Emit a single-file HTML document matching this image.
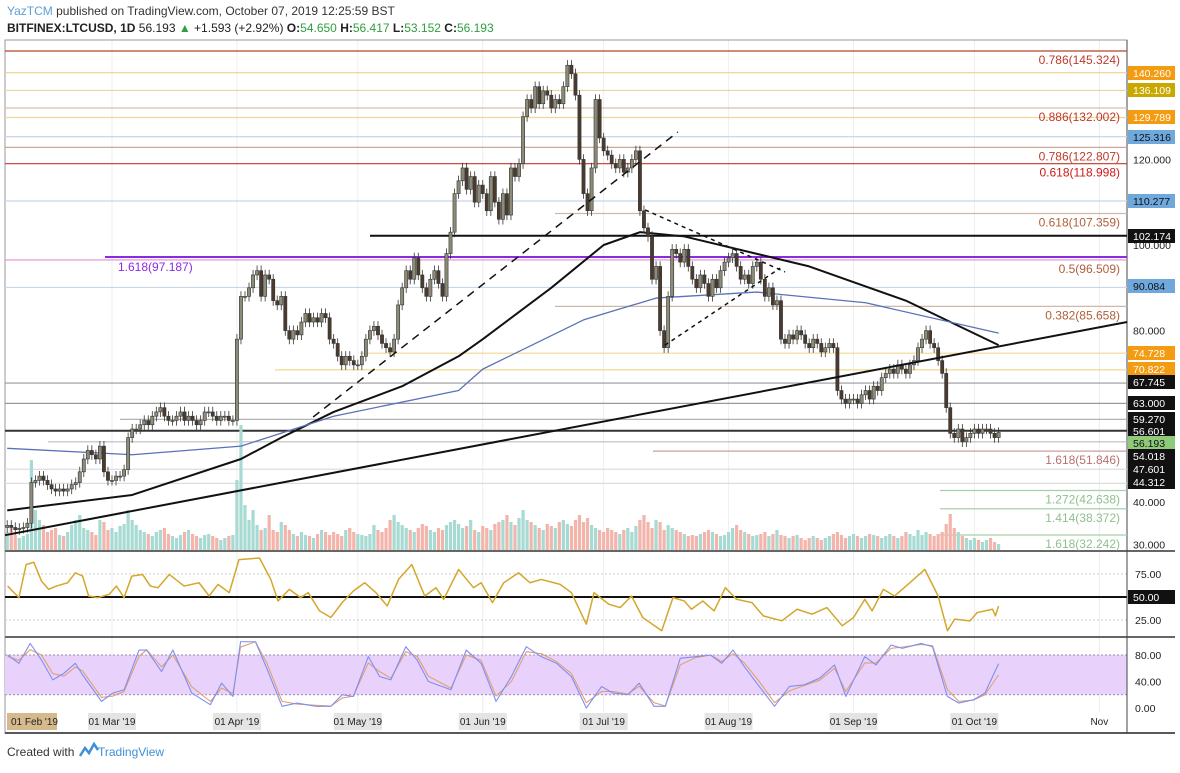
<!DOCTYPE html>
<html><head><meta charset="utf-8"><style>
body{margin:0;background:#fff;width:1180px;height:768px;overflow:hidden;font-family:"Liberation Sans",sans-serif}
svg text{font-family:"Liberation Sans",sans-serif}
</style></head><body>
<svg id="c" width="1180" height="768" xmlns="http://www.w3.org/2000/svg">
<text x="7" y="15" font-size="12" fill="#5aa0d8">YazTCM <tspan fill="#333">published on TradingView.com, October 07, 2019 12:25:59 BST</tspan></text>
<text x="7" y="32" font-size="12" fill="#222"><tspan font-weight="bold">BITFINEX:LTCUSD, 1D</tspan> 56.193 <tspan fill="#2e9e3e">▲</tspan> +1.593 (+2.92%) <tspan font-weight="bold">O:</tspan><tspan fill="#2e9e3e">54.650</tspan> <tspan font-weight="bold">H:</tspan><tspan fill="#2e9e3e">56.417</tspan> <tspan font-weight="bold">L:</tspan><tspan fill="#2e9e3e">53.152</tspan> <tspan font-weight="bold">C:</tspan><tspan fill="#2e9e3e">56.193</tspan></text>
<g id="grid"></g><g id="levels"></g><g id="vol"></g><g id="ma"></g><g id="candles"></g><g id="draw"></g><g id="axis"></g>
<text x="7" y="756" font-size="12" fill="#333">Created with</text>
<path d="M80 756 l5 -8 l4 5 l5 -9 l4 6" stroke="#3d8fd6" stroke-width="2.5" fill="none"/>
<text x="98" y="756" font-size="12" fill="#3d8fd6">TradingView</text>
</svg>
<script>
const closes=[34.5,34,33.5,33.8,34,35,44.5,45,46,45,44,43,42.5,43,42.5,43,44,44.5,47,50,52,51,50,53,47,45,
45,46,46,47.5,55,57,57,58,59,58,60,61,62,60,59,59,60,61,59,60,59,58,59,61,61,60,59,60,60,59,59,
78,88,88,90,93,94,88,93,92,87,86,88,80,78,80,79,82,84,82,83,82,84,83,78,77,74,72,74,73,72,
72,74,78,80,81,79,77,76,75,78,86,90,94,92,97,93,90,88,92,94,91,88,98,103,112,115,118,113,116,110,114,
112,108,116,110,106,112,107,118,116,119,130,134,132,137,133,136,135,132,134,133,137,142,140,135,120,112,108,118,134,125,
122,121,119,118,120,117,118,120,122,108,104,102,92,95,80,76,88,99,98,96,99,95,92,90,93,91,88,92,90,94,96,
97,98,95,92,93,91,95,96,92,88,90,86,87,78,77,79,78,80,79,77,76,78,77,75,76,77,76,66,64,63,64,
64,63,65,66,64,67,66,69,70,71,70,72,71,70,72,73,76,78,80,77,76,73,70,62,56,55,57,54,55,56,
57,56,57,57,56,55,56.193];
const firstDay=2;
const volumes=[18,22,15,12,14,16,90,40,30,25,18,20,22,15,14,18,25,30,35,22,20,18,15,30,28,20,22,18,24,26,
40,30,25,20,18,16,14,18,20,22,16,14,12,15,18,20,16,14,12,15,16,14,12,10,12,14,15,70,125,45,
30,40,25,20,22,35,20,18,28,25,20,16,14,18,15,14,12,16,20,18,15,18,16,14,20,22,18,16,15,14,
16,25,20,18,22,30,35,28,25,22,20,18,22,26,24,20,18,22,20,25,28,30,26,22,24,30,20,18,24,22,
20,26,28,30,35,28,25,32,40,30,28,25,22,20,26,24,22,28,30,26,24,30,35,28,32,25,22,20,18,22,
20,18,16,20,22,18,24,30,35,28,22,30,28,20,25,22,20,18,16,14,15,14,16,18,20,18,16,14,15,18,
22,25,20,18,16,14,15,16,18,14,16,20,15,14,12,14,15,12,10,12,14,12,10,12,14,16,18,15,12,14,
16,14,12,14,16,15,14,12,14,16,14,12,14,18,16,14,20,15,18,16,14,16,18,26,36,22,18,14,12,10,
12,10,8,10,12,8,6];
const maSlowDays=[2,33,60,70,83,100,114,120,137,150,159,170,201,225,248];
const maSlowVals=[38,41.6,50,55,61,67,74,78,90,100,103,102,95,87,76.6];
const maFastDays=[2,33,60,83,114,120,145,163,188,215,248];
const maFastVals=[52.5,51,53,60,66,71,82.5,87.6,89,86.5,79.4];
const rsiDays=[2.1,4.9,6.7,8.6,10.5,12.3,14.2,17,18.9,20.7,22.2,24.5,27.3,29.1,31,32.9,35.6,37.5,39.4,42.2,45.9,49.6,52.1,54.3,57.1,59.5,64.6,67.4,69.2,72,74.8,76.7,79.5,82.3,85.1,87.9,90.7,93.5,96.3,99.1,102.4,105.6,108.4,110.3,114,117.7,119.6,122.4,125.2,128.9,131.7,134.5,139.2,142,145.7,147.6,151.3,154.1,156.9,159.7,164.4,167.2,170,171.8,174.6,177.4,180.2,183,186.8,189.6,194.2,198,201.7,205.4,209.2,212,214.8,216.6,219.4,222.2,226,229.7,233,235.3,237.1,240.9,242.7,246.5,247.2,248];
const rsiVals=[61.9,49.3,85.3,87.8,67.3,58.3,61.9,65.5,76.3,72.7,51.1,49.3,52.9,61.9,49.3,72.7,74.5,61.9,60.1,74.5,61.9,65.5,51.1,63.7,54.7,90.6,92.4,69.1,45.7,58.3,49.3,54.7,34.9,27.7,43.9,56.5,65.5,54.7,40.3,69.1,85.3,51.1,60.1,47.5,79.9,60.1,65.5,43.9,65.5,76.3,65.5,69.1,63.7,54.7,20.5,54.7,42.1,38.5,51.1,27.7,13.3,49.3,45.7,36.7,45.7,34.9,60.1,47.5,43.9,29.5,24.1,36.7,31.3,38.5,18.7,27.7,47.5,34.9,58.3,51.1,65.5,79.9,51.1,13.3,25.9,24.1,33.1,36.7,29.5,40.3];
const stochDays=[2.1,4.9,7.7,10.5,13.3,16.1,18.9,20.7,25.4,28.2,31,34.7,36.6,40.3,43.1,47.8,52.4,55.2,58,59.9,63.6,66.4,70.2,73.9,78.6,82.3,85.1,87.9,91.6,94.4,97.2,100.9,103.7,106.5,112.1,115.9,119.6,123.3,127.1,130.8,134.5,138.3,142,145.7,149.5,152.3,156,158.8,162.5,165.3,169,172.8,176.5,179.3,182.1,184.9,188.6,192.4,196.1,199.8,203.6,207.3,210.1,214.8,217.6,221.3,224.1,228.8,231.6,235.3,238.1,241.8,244.6,248];
const stochK=[80,67.5,97.5,72.5,42.5,52.5,67.5,50,10,22.5,27.5,87.5,87.5,55,87.5,22.5,5,37.5,17.5,100,100,60,2.5,7.5,2.5,2.5,20,17.5,77.5,47.5,42.5,92.5,72.5,40,27.5,87.5,67.5,10,47.5,92.5,77.5,67.5,47.5,0,32.5,22.5,20,37.5,2.5,2.5,75,77.5,80,67.5,87.5,62.5,32.5,2.5,32.5,35,45,65,17.5,77.5,65,95,90,97.5,92.5,17.5,7.5,12.5,22.5,67];
const stochD=[78,72,88,80,52,48,62,56,16,18,25,78,88,62,80,32,10,30,22,92,100,68,10,6,4,3,15,18,68,55,45,85,78,48,30,80,72,18,40,85,82,70,52,8,25,25,21,33,8,3,65,76,80,70,82,68,40,8,26,34,42,60,25,68,68,90,92,96,94,28,10,12,20,50];
const fibLevels=[145.324,140.260,136.109,132.002,129.789,125.316,122.807,118.998,110.277,107.359,102.174,97.187,96.509,90.084,85.658,74.728,70.822,67.745,63.000,59.270,56.601,54.018,51.846,47.601,44.312,42.638,38.372,32.242];
const priceTicks=[120,100,80,40,30];
const rsiTicks=[75,50,25];
const stochTicks=[80,40,0];
const monthDays=[28,59,89,120,150,181,212,242,273];
const monthLabels=["01 Mar '19","01 Apr '19","01 May '19","01 Jun '19","01 Jul '19","01 Aug '19","01 Sep '19","01 Oct '19","Nov"];

const NS="http://www.w3.org/2000/svg";
function X(d){return 112+(d-28)*4.03;}
function Y(p){return 245-(p-100)*4.28;}
function RY(v){return 597-(v-50)*0.92;}
function SY(v){return 708-v*0.6625;}
function mk(parent,tag,attrs){const e=document.createElementNS(NS,tag);for(const k in attrs)e.setAttribute(k,attrs[k]);document.getElementById(parent).appendChild(e);return e;}
monthDays.forEach((d,i)=>{const l=mk('grid','line',{x1:X(d),x2:X(d),y1:40,y2:712,stroke:'#eeeeee'});

});
let f=mk('grid','rect',{x:5,y:40,width:1122,height:693,fill:'none',stroke:'#999','stroke-width':1});


let band=mk('grid','rect',{x:5,y:SY(80),width:1122,height:SY(20)-SY(80),fill:'#e8d2fb'});


[80,20].forEach(v=>{const l=mk('grid','line',{x1:5,x2:1127,y1:SY(v),y2:SY(v),stroke:'#9b8fb0','stroke-dasharray':'2,2'});

});
[75,25].forEach(v=>{const l=mk('grid','line',{x1:5,x2:1127,y1:RY(v),y2:RY(v),stroke:'#ccc','stroke-dasharray':'2,2'});

});
let r50=mk('grid','line',{x1:5,x2:1127,y1:RY(50),y2:RY(50),stroke:'#111','stroke-width':2});


[551,637].forEach(y=>{const l=mk('grid','line',{x1:5,x2:1175,y1:y,y2:y,stroke:'#666','stroke-width':2});

});
let al=mk('grid','line',{x1:5,x2:1175,y1:733,y2:733,stroke:'#222','stroke-width':1.5});


let pl=mk('grid','line',{x1:1127,x2:1127,y1:40,y2:733,stroke:'#444'});



const lvlStyle={145.324:['#b5452a',5],140.260:['#f0cf8a',5],136.109:['#e8d6a0',5],132.002:['#d8c0b0',5],129.789:['#f0d890',5],125.316:['#c8d8ea',5],122.807:['#c9a89a',5],118.998:['#c0392b',5],110.277:['#c8d8ea',5],107.359:['#d0b8a8',555],102.174:['#111',370],97.187:['#8a2be2',105],96.509:['#e58cd8',5],90.084:['#c8d8ea',5],85.658:['#d0b8a8',555],74.728:['#f0d890',360],70.822:['#f0d890',275],67.745:['#999',5],63.000:['#999',5],59.270:['#aaa',120],56.601:['#333',5],54.018:['#bbb',48],51.846:['#c8a0a0',653],47.601:['#ddd',5],44.312:['#ddd',5],42.638:['#a8d0a8',940],38.372:['#a8d0a8',940],32.242:['#a8d0a8',940]};
fibLevels.forEach(p=>{const s=lvlStyle[p];const w=(p==102.174||p==56.601||p==97.187)?2:1.2;
const l=mk('levels','line',{x1:s[1],x2:1127,y1:Y(p),y2:Y(p),stroke:s[0],'stroke-width':w});

});
const fibText=[[145.324,'0.786(145.324)','#c0392b'],[132.002,'0.886(132.002)','#c0392b'],[122.807,'0.786(122.807)','#c0392b'],[118.998,'0.618(118.998)','#d01818'],[107.359,'0.618(107.359)','#b0603a'],[96.509,'0.5(96.509)','#b0603a'],[85.658,'0.382(85.658)','#b0603a'],[51.846,'1.618(51.846)','#b87070'],[42.638,'1.272(42.638)','#8fbf8f'],[38.372,'1.414(38.372)','#8fbf8f'],[32.242,'1.618(32.242)','#8fbf8f']];
fibText.forEach(t=>{const e=mk('levels','text',{x:1120,y:Y(t[0])+13,'text-anchor':'end','font-size':12,fill:t[2]});e.textContent=t[1];

});
let pt=mk('levels','text',{x:118,y:Y(97.187)+14,'font-size':12,fill:'#8a2be2'});pt.textContent='1.618(97.187)';



volumes.forEach((v,i)=>{const d=firstDay+i;const c=closes[i];const o=i?closes[i-1]:34;
const r=mk('vol','rect',{x:X(d)-1.6,y:550-v,width:3.2,height:v,fill:c>=o?'#a6dad2':'#f3b4ab'});

});

function poly(g,days,vals,fy,color,w){const pts=days.map((d,i)=>X(Math.min(d,248))+','+fy(vals[i])).join(' ');
return mk(g,'polyline',{points:pts,fill:'none',stroke:color,'stroke-width':w,'stroke-linejoin':'round'});}
let m1=poly('ma',maSlowDays,maSlowVals,Y,'#111',2);


let m2=poly('ma',maFastDays,maFastVals,Y,'#5a72b8',1.3);



closes.forEach((c,i)=>{const d=firstDay+i;const o=i?closes[i-1]:34;const x=X(d);
const hi=Math.max(o,c)+1.2,lo=Math.min(o,c)-1.2;
const w=mk('candles','line',{x1:x,x2:x,y1:Y(hi),y2:Y(lo),stroke:'#333','stroke-width':0.8});


const top=Y(Math.max(o,c)),h=Math.max(1,Y(Math.min(o,c))-top);
const b=mk('candles','rect',{x:x-1.6,y:top,width:3.2,height:h,fill:c>=o?'#8c8c78':'#4b3b2f',stroke:'#333','stroke-width':0.6});

});

function tl(d1,p1,d2,p2,dash){return mk('draw','line',{x1:X(d1),y1:Y(p1),x2:X(d2),y2:Y(p2),stroke:'#111','stroke-width':dash?1.5:2,'stroke-dasharray':dash||'none'});}
let t1=tl(1.45,32.2,279.9,82,null);


let t2=tl(77.9,59.8,168.4,126.4,'8,6');


let t3=tl(160.3,108.2,195,93.7,'4,4');


let t4=tl(165.2,76.6,193.8,94.6,'4,4');



let rl=poly('draw',rsiDays,rsiVals,RY,'#d4a72c',1.5);


let sd=poly('draw',stochDays,stochD,SY,'#e0a070',1.1);


let sk=poly('draw',stochDays,stochK,SY,'#7f8ff0',1.1);



function box(y,txt,bg,fg,name){const r=mk('axis','rect',{x:1128,y:y-7,width:47,height:14,fill:bg});


const t=mk('axis','text',{x:1133,y:y+4,'font-size':10.5,fill:fg});t.textContent=txt;

}
priceTicks.forEach(p=>{const t=mk('axis','text',{x:1133,y:Y(p)+4,'font-size':10.5,fill:'#222'});t.textContent=p.toFixed(3);

});
const tags=[[73,'140.260','#f39c12','#fff'],[90,'136.109','#c9a800','#fff'],[117,'129.789','#f39c12','#fff'],[137,'125.316','#6fa8dc','#111'],[201,'110.277','#6fa8dc','#111'],[236,'102.174','#111','#fff'],[286,'90.084','#6fa8dc','#111'],[353,'74.728','#f39c12','#fff'],[369,'70.822','#f39c12','#fff'],[382,'67.745','#111','#fff'],[403,'63.000','#111','#fff'],[419,'59.270','#111','#fff'],[431,'56.601','#111','#fff'],[443,'56.193','#8fc97a','#111'],[456,'54.018','#111','#fff'],[469,'47.601','#111','#fff'],[482,'44.312','#111','#fff']];
tags.forEach(t=>box(t[0],t[1],t[2],t[3],'price-tag'));
rsiTicks.forEach(v=>{if(v==50){box(RY(50),'50.00','#111','#fff','rsi-tick');return;}
const t=mk('axis','text',{x:1135,y:RY(v)+4,'font-size':10.5,fill:'#222'});t.textContent=v.toFixed(2);

});
stochTicks.forEach(v=>{const t=mk('axis','text',{x:1135,y:SY(v)+4,'font-size':10.5,fill:'#222'});t.textContent=v.toFixed(2);

});
let fb=mk('axis','rect',{x:7,y:713,width:50,height:17,fill:'#d7b98e'});


let ft=mk('axis','text',{x:11,y:725,'font-size':10,fill:'#222'});ft.textContent="01 Feb '19";


monthDays.forEach((d,i)=>{const x=X(d);const lab=monthLabels[i];
if(lab!=='Nov'){const r=mk('axis','rect',{x:x-24,y:713,width:48,height:17,fill:'#e4e4e4'});

}
const t=mk('axis','text',{x:x,y:725,'font-size':10,fill:'#222','text-anchor':'middle'});t.textContent=lab;

});
</script>
</body></html>
